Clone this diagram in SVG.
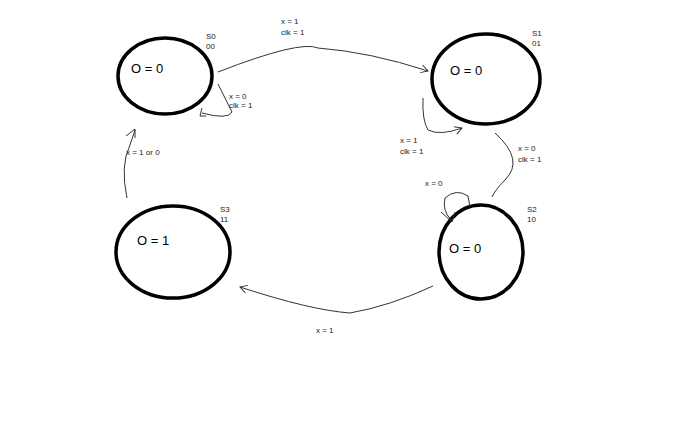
<svg xmlns="http://www.w3.org/2000/svg" width="700" height="428" viewBox="0 0 700 428">
<style>
.n{fill:none;stroke:#000;stroke-width:3.5}
.c{fill:none;stroke:#333;stroke-width:1}
.t{font-family:"Liberation Sans",Arial,sans-serif;font-size:13px;fill:#000}
.s{font-family:"Liberation Sans",Arial,sans-serif;font-size:8px;fill:#222}
</style>
<defs><marker id="a" markerWidth="10" markerHeight="10" refX="8" refY="5" orient="auto" markerUnits="userSpaceOnUse"><path d="M1,1 L8,5 L1,9" fill="none" stroke="#333" stroke-width="1"/></marker></defs>
<rect width="700" height="428" fill="#fff"/>
<g id="S0"><ellipse class="n" cx="165" cy="76" rx="47" ry="38"/><text class="t" x="131" y="73">O = 0</text><text class="s" x="206" y="39">S0</text><text class="s" x="206" y="49">00</text></g>
<g id="S1"><ellipse class="n" cx="486" cy="79" rx="54" ry="45"/><text class="t" x="450" y="75">O = 0</text><text class="s" x="532" y="36">S1</text><text class="s" x="532" y="46">01</text></g>
<g id="S2"><ellipse class="n" cx="481" cy="252" rx="42" ry="47"/><text class="t" x="449" y="253">O = 0</text><text class="s" x="527" y="212">S2</text><text class="s" x="527" y="222">10</text></g>
<g id="S3"><ellipse class="n" cx="173" cy="252" rx="57" ry="46"/><text class="t" x="137" y="245">O = 1</text><text class="s" x="220" y="212">S3</text><text class="s" x="220" y="222">11</text></g>
<g id="connectors">
<path class="c" d="M218,72 Q300,40 318,48 Q370,52 428,71" marker-end="url(#a)"/>
<path class="c" d="M218,84 L232,112 Q228,120 202,113"/><path class="c" d="M202,108 L200,116 L206,116"/>
<path class="c" d="M423,98 Q422,120 428,130 Q440,136 462,128" marker-end="url(#a)"/>
<path class="c" d="M495,133 Q525,160 505,180 Q495,190 492,197"/>
<path class="c" d="M451,220 Q442,210 445,198 Q456,188 468,196 L470,207" /><path class="c" d="M441,212 L452,222 L455,212"/>
<path class="c" d="M433,286 Q390,306 350,313 Q310,310 240,287" marker-end="url(#a)"/>
<path class="c" d="M127,198 Q120,165 130,145 L135,130"/><path class="c" d="M126,136 L135,129 L135,138"/>
<text class="s" x="281" y="24">x = 1</text><text class="s" x="281" y="35">clk = 1</text>
<text class="s" x="229" y="99">x = 0</text><text class="s" x="229" y="108">clk = 1</text>
<text class="s" x="400" y="143">x = 1</text><text class="s" x="400" y="154">clk = 1</text>
<text class="s" x="518" y="151">x = 0</text><text class="s" x="518" y="162">clk = 1</text>
<text class="s" x="425" y="186">x = 0</text>
<text class="s" x="316" y="333">x = 1</text>
<text class="s" x="126" y="155">x = 1 or 0</text>
</g>
</svg>
